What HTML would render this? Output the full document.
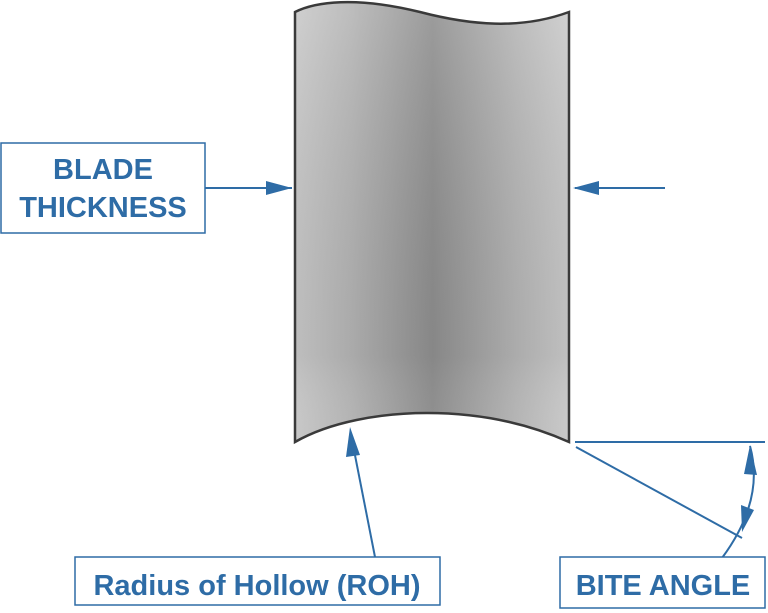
<!DOCTYPE html>
<html><head><style>
body{margin:0;background:#fff;width:768px;height:613px;overflow:hidden}
svg{display:block}
text{font-family:"Liberation Sans",Arial,sans-serif;fill:#2e6ca6;font-weight:bold;letter-spacing:0px}
</style></head><body>
<svg width="768" height="613" viewBox="0 0 768 613">
<defs>
<linearGradient id="g" x1="295" y1="0" x2="570" y2="0" gradientUnits="userSpaceOnUse">
<stop offset="0" stop-color="#c8c8c8"/>
<stop offset="0.2" stop-color="#b4b4b4"/>
<stop offset="0.5" stop-color="#8e8e8e"/>
<stop offset="0.8" stop-color="#b4b4b4"/>
<stop offset="1" stop-color="#cacaca"/>
</linearGradient>
<linearGradient id="v" x1="0" y1="12" x2="0" y2="442" gradientUnits="userSpaceOnUse">
<stop offset="0" stop-color="#fff" stop-opacity="0.12"/>
<stop offset="0.8" stop-color="#000" stop-opacity="0.05"/>
<stop offset="1" stop-color="#fff" stop-opacity="0"/>
</linearGradient>
</defs>
<path d="M295,12 C315,2 355,-4 420,12 C470,25 520,30 569,12 L569,442 C520,420 470,413 427,413 C380,413 330,422 295,442 Z" fill="url(#g)"/>
<path d="M295,12 C315,2 355,-4 420,12 C470,25 520,30 569,12 L569,442 C520,420 470,413 427,413 C380,413 330,422 295,442 Z" fill="url(#v)" stroke="#3a3a3a" stroke-width="2.5"/>
<g stroke="#2e6ca6" stroke-width="2" fill="none">
<rect x="1" y="143" width="204" height="90" fill="#fff" stroke-width="1.5"/>
<line x1="205" y1="188" x2="292" y2="188"/>
<path d="M266,181L292,188L266,195z" fill="#2e6ca6" stroke="none"/>
<line x1="575" y1="188" x2="665" y2="188"/>
<path d="M599,181L573,188L599,195z" fill="#2e6ca6" stroke="none"/>
<rect x="75" y="557" width="365" height="48" fill="#fff" stroke-width="1.5"/>
<line x1="375" y1="557" x2="352" y2="440"/>
<path d="M350,427L360,455L346,457z" fill="#2e6ca6" stroke="none"/>
<line x1="575" y1="442" x2="765" y2="442"/>
<line x1="576" y1="447" x2="742" y2="538"/>
<path d="M750,446 Q765,500 722,558"/>
<path d="M750,445L757,475L744,474z" fill="#2e6ca6" stroke="none"/>
<path d="M742,532L741,505L754,510z" fill="#2e6ca6" stroke="none"/>
<rect x="560" y="557" width="205" height="51" fill="#fff" stroke-width="1.5"/>
</g>
<text x="103" y="179" font-size="29" text-anchor="middle">BLADE</text>
<text x="103" y="217" font-size="29" text-anchor="middle">THICKNESS</text>
<text x="257" y="595" font-size="29" text-anchor="middle">Radius of Hollow (ROH)</text>
<text x="663" y="595" font-size="29" text-anchor="middle">BITE ANGLE</text>
</svg>
</body></html>
